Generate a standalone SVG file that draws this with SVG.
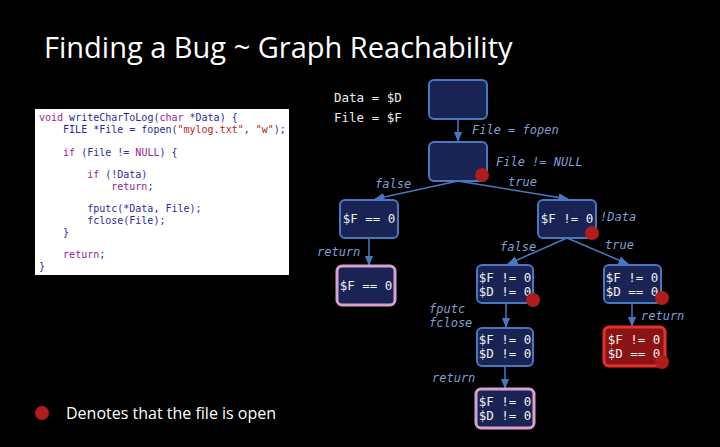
<svg xmlns="http://www.w3.org/2000/svg" width="720" height="447" viewBox="0 0 720 447">
<defs>
<style>
.n{fill:#1a2454;stroke:#4a78c0;stroke-width:2}
.p{fill:#1a2454;stroke:#d9a0d0;stroke-width:3}
.r{fill:#8a1414;stroke:#e8302a;stroke-width:3}
.t{font-family:"DejaVu Sans Mono",monospace;font-size:12.5px;fill:#eeeeee}
.l{font-family:"DejaVu Sans Mono",monospace;font-size:12px;font-style:italic;fill:#7f9fd0}
.c{font-family:"DejaVu Sans Mono",monospace;font-size:10px;fill:#2a2aa0;white-space:pre}
.k{fill:#a0208f}.s{fill:#c02020}
.e{stroke:#4a78c0;stroke-width:1.5;fill:none;marker-end:url(#a)}
.d{fill:#b01c1c}
</style>
<marker id="a" viewBox="0 0 10 10" refX="9" refY="5" markerWidth="7" markerHeight="7" orient="auto"><path d="M0,1 L10,5 L0,9 Z" fill="#4a78c0"/></marker>
</defs>
<rect width="720" height="447" fill="#000"/>
<text x="44" y="58" font-family="'Open Sans','Liberation Sans',sans-serif" font-size="29" fill="#fff">Finding a Bug ~ Graph Reachability</text>
<g id="code">
<rect x="35" y="109" width="254" height="166" fill="#fff"/>
<text class="c"><tspan x="39" y="121"><tspan class="k">void</tspan> writeCharToLog(<tspan class="k">char</tspan> *Data) {</tspan><tspan x="39" y="133">    FILE *File = fopen(<tspan class="s">"mylog.txt"</tspan>, <tspan class="s">"w"</tspan>);</tspan><tspan x="39" y="156">    <tspan class="k">if</tspan> (File != <tspan class="k">NULL</tspan>) {</tspan><tspan x="39" y="178">        <tspan class="k">if</tspan> (!Data)</tspan><tspan x="39" y="190">            <tspan class="k">return</tspan>;</tspan><tspan x="39" y="212">        fputc(*Data, File);</tspan><tspan x="39" y="224">        fclose(File);</tspan><tspan x="39" y="236">    }</tspan><tspan x="39" y="258">    <tspan class="k">return</tspan>;</tspan><tspan x="39" y="270">}</tspan></text>
</g>
<text class="t" x="334" y="102" fill="#eee" font-size="13">Data = $D</text>
<text class="t" x="334" y="122" font-size="13">File = $F</text>
<g id="edges">
<path class="e" d="M458,119 V141"/>
<path class="e" d="M458,181 L375,199"/>
<path class="e" d="M458,181 L568,199"/>
<path class="e" d="M369,238 V265"/>
<path class="e" d="M567,238 L508,264"/>
<path class="e" d="M567,238 L628,264"/>
<path class="e" d="M506,303 V327"/>
<path class="e" d="M505,366 V388"/>
<path class="e" d="M632,303 V326"/>
<text class="l" x="472" y="134">File = fopen</text>
<text class="l" x="496" y="166">File != NULL</text>
<text class="l" x="375" y="188">false</text>
<text class="l" x="508" y="186">true</text>
<text class="l" x="600" y="221">!Data</text>
<text class="l" x="317" y="256">return</text>
<text class="l" x="500" y="251">false</text>
<text class="l" x="605" y="249">true</text>
<text class="l" x="429" y="313">fputc</text>
<text class="l" x="429" y="327">fclose</text>
<text class="l" x="641" y="320">return</text>
<text class="l" x="432" y="382">return</text>
</g>
<g id="n0"><rect class="n" x="429" y="80" width="58" height="39" rx="5"/></g>
<g id="n1"><rect class="n" x="429" y="142" width="58" height="39" rx="5"/><circle class="d" cx="482" cy="175" r="7"/></g>
<g id="n2"><rect class="n" x="340" y="200" width="58" height="38" rx="5"/><text class="t" x="369" y="223" text-anchor="middle">$F == 0</text></g>
<g id="n3"><rect class="n" x="538" y="200" width="58" height="38" rx="5"/><text class="t" x="567" y="223" text-anchor="middle">$F != 0</text><circle class="d" cx="592" cy="233" r="7"/></g>
<g id="n4"><rect class="p" x="337" y="266" width="58" height="39" rx="5"/><text class="t" x="366" y="290" text-anchor="middle">$F == 0</text></g>
<g id="n5"><rect class="n" x="477" y="265" width="56" height="38" rx="5"/><text class="t" x="505" y="282" text-anchor="middle">$F != 0</text><text class="t" x="505" y="296" text-anchor="middle">$D != 0</text><circle class="d" cx="533" cy="300" r="7"/></g>
<g id="n6"><rect class="n" x="604" y="265" width="57" height="38" rx="5"/><text class="t" x="632" y="282" text-anchor="middle">$F != 0</text><text class="t" x="632" y="296" text-anchor="middle">$D == 0</text><circle class="d" cx="662" cy="298" r="7"/></g>
<g id="n7"><rect class="n" x="477" y="328" width="56" height="38" rx="5"/><text class="t" x="505" y="344" text-anchor="middle">$F != 0</text><text class="t" x="505" y="358" text-anchor="middle">$D != 0</text></g>
<g id="n8"><rect class="r" x="604" y="327" width="61" height="39" rx="5"/><text class="t" x="634" y="344" text-anchor="middle">$F != 0</text><text class="t" x="634" y="358" text-anchor="middle">$D == 0</text><circle class="d" cx="662" cy="362" r="7"/></g>
<g id="n9"><rect class="p" x="476" y="389" width="58" height="39" rx="5"/><text class="t" x="505" y="406" text-anchor="middle">$F != 0</text><text class="t" x="505" y="420" text-anchor="middle">$D != 0</text></g>
<g id="legend"><circle class="d" cx="42" cy="413" r="7"/><text x="66" y="419" font-family="'Open Sans','Liberation Sans',sans-serif" font-size="16" fill="#fff">Denotes that the file is open</text></g>
</svg>
